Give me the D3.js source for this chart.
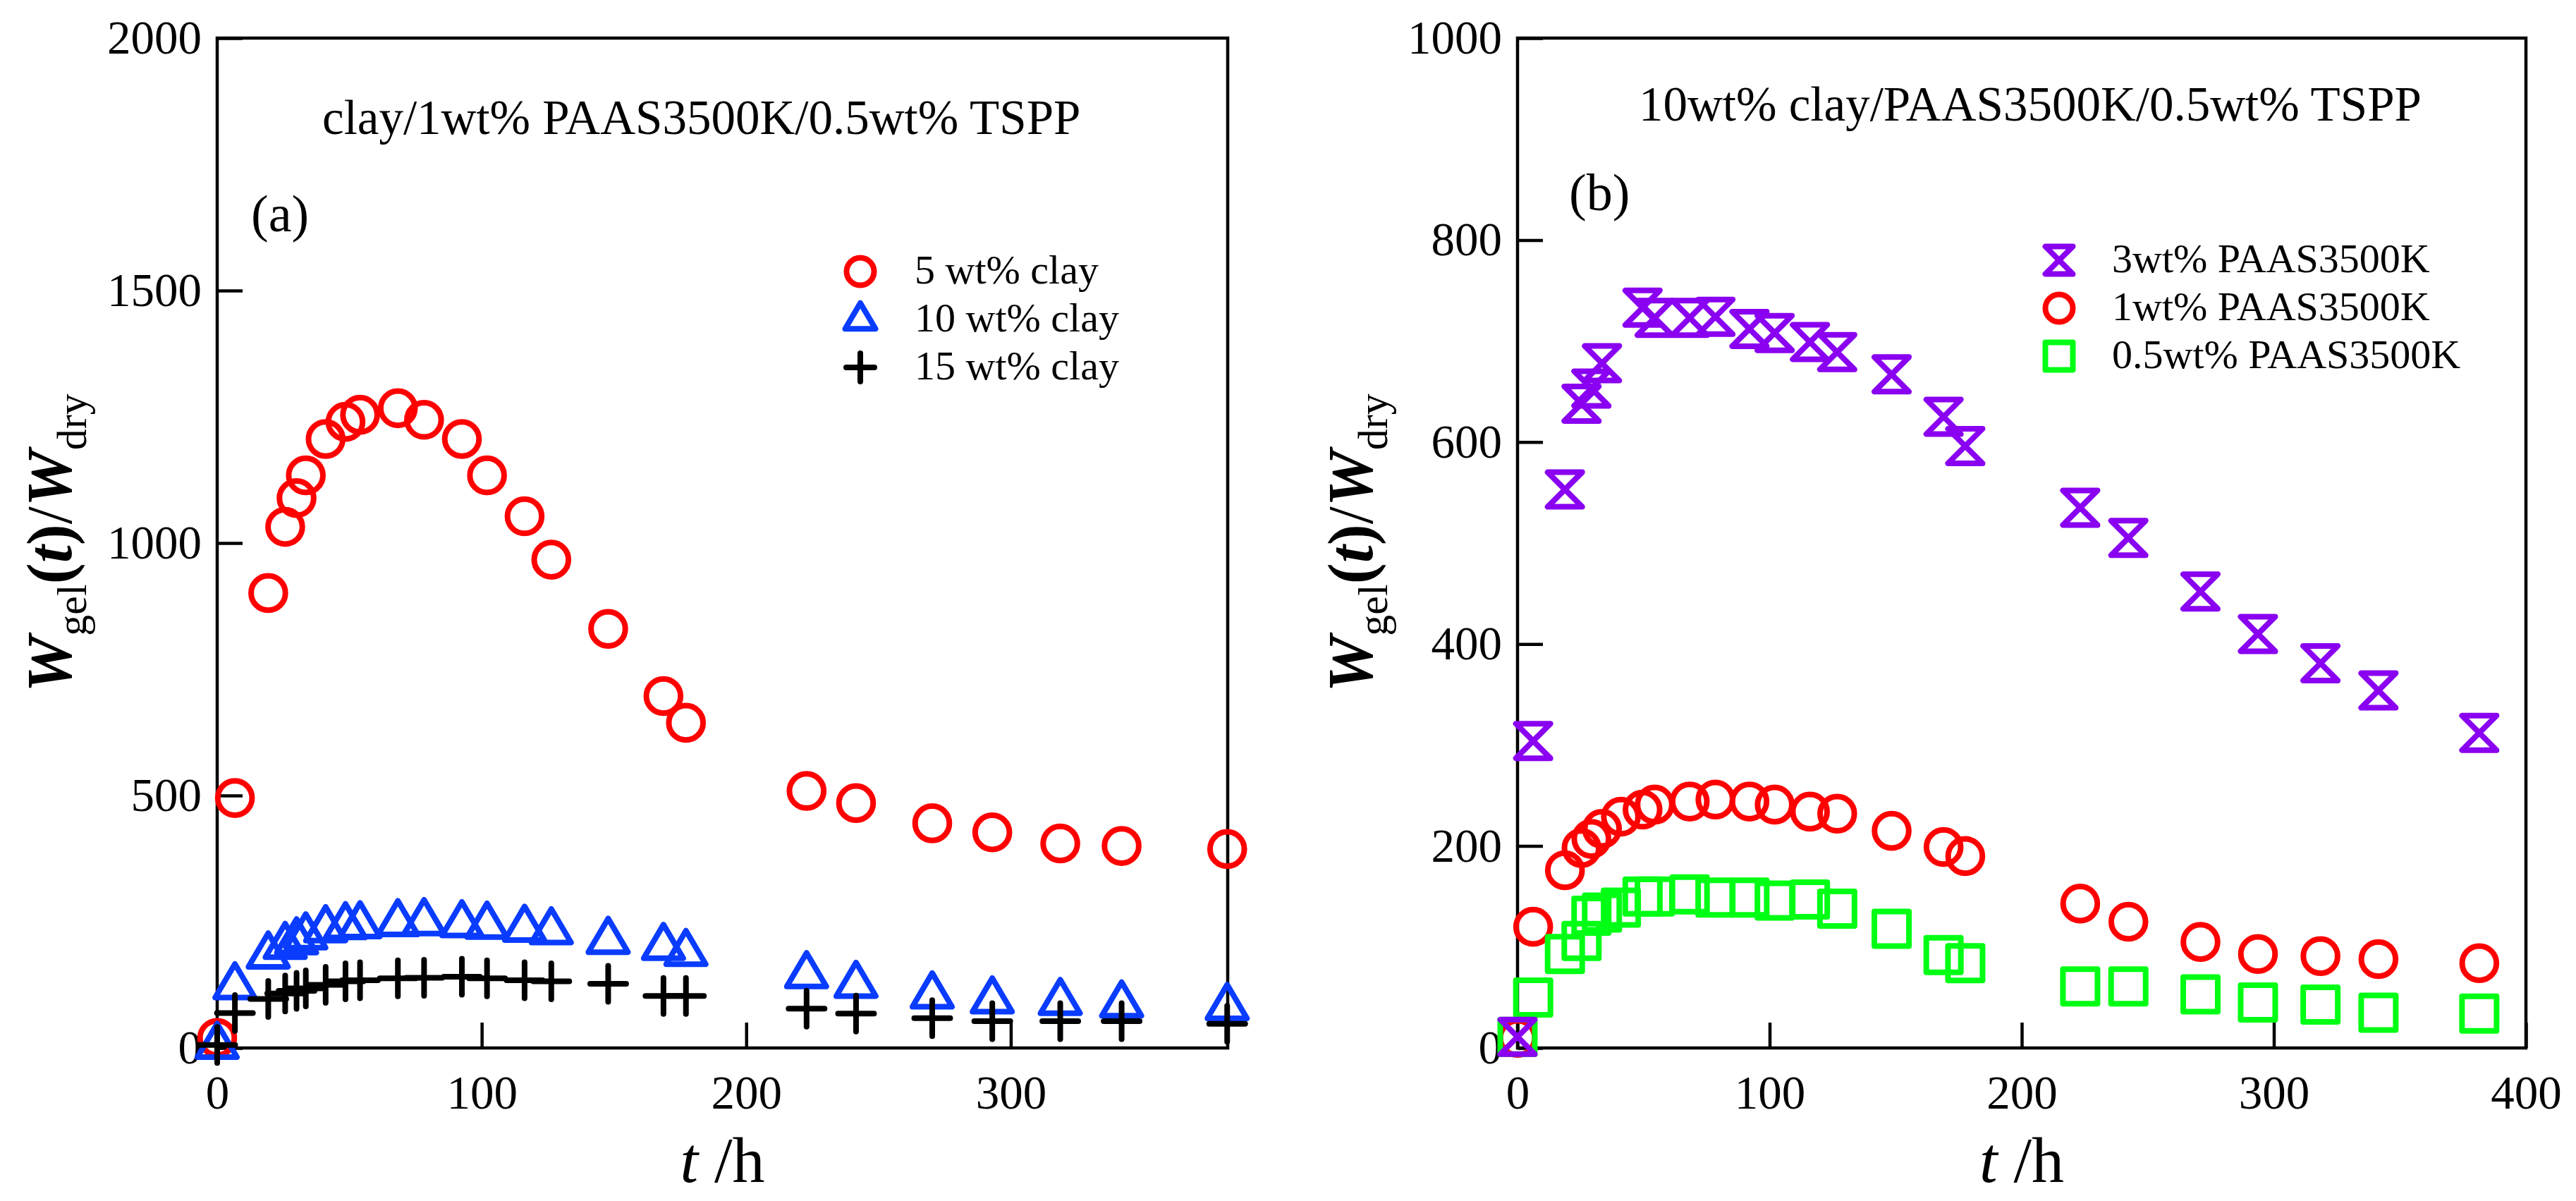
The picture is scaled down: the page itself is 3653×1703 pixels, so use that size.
<!DOCTYPE html>
<html>
<head>
<meta charset="utf-8">
<script src="https://cdn.jsdelivr.net/npm/d3@7"></script>
<style>
  html, body { margin: 0; padding: 0; background: #fff; }
  svg text { font-family: "Liberation Serif", "Times New Roman", Times, serif; }
</style>
</head>
<body>
<div id="chart"></div>
<script>
// panel (a): clay content series
const timeA = [0, 6.7, 19.3, 25.7, 30, 33.5, 41, 48.5, 54, 68.3, 78.2, 92.5, 102, 116.2, 126.3, 147.8, 168.7, 177.2, 222.8, 241.5, 270.3, 293, 318.7, 341.9, 381.8];
const clay5 = [20, 495, 901, 1032, 1089, 1134, 1206, 1240, 1254, 1267, 1244, 1206, 1134, 1053, 967, 830, 697, 644, 509, 485, 445, 427, 405, 400, 394];
const clay10 = [15, 133, 194, 213, 222, 232, 246, 252, 254, 258, 260, 256, 253, 247, 242, 223, 211, 199, 155, 136, 115, 105, 102, 97, 92];
const clay15 = [6, 69, 97, 108, 113, 118, 125, 132, 134, 138, 139, 141, 138, 134, 132, 127, 103, 103, 78, 68, 59, 53, 53, 53, 48];

// panel (b): PAAS content series (null = no point)
const timeB = [0, 6.2, 18.8, 25.4, 29.3, 33.5, 41, 49.6, 54.4, 68.3, 78.5, 92, 102, 116, 126.8, 148.4, 169, 177.6, 223.2, 242.3, 270.9, 293.7, 318.5, 341.5, 381.5];
const paas3 = [11, 304, 553, 638, 653, 678, null, 733, 723, 723, 724, 712, 708, 699, 689, 667, 625, 596, 535, 505, 452, 410, 381, 354, 312];
const paas1 = [10, 120, 176, 198, 207, 217, 229, 236, 241, 244, 246, 244, 241, 234, 232, 215, 199, 190, 143, 125, 105, 93, 91, 88, 84];
const paas05 = [11, 50, 93, 106, 131, 134, 139, 150, 150, 152, 149, 149, 146, 147, 138, 118, 92, 84, 61, 61, 53, 45, 43, 35, 34];

const xTicksA = [0, 100, 200, 300];
const yTicksA = [0, 500, 1000, 1500, 2000];
const xTicksB = [0, 100, 200, 300, 400];
const yTicksB = [0, 200, 400, 600, 800, 1000];

const width = 3653;
const height = 1703;
const font = '"Liberation Serif", "Times New Roman", Times, serif';

// marker shapes as d3 symbol types, r = half size
const half = (size) => Math.sqrt(size) / 2;
const shapes = {
  circle: {
    draw(ctx, size) {
      const r = half(size);
      ctx.moveTo(r, 0);
      ctx.arc(0, 0, r, 0, 2 * Math.PI);
    },
  },
  triangle: {
    draw(ctx, size) {
      const r = half(size);
      ctx.moveTo(0, -0.85 * r);
      ctx.lineTo(r, 0.85 * r);
      ctx.lineTo(-r, 0.85 * r);
      ctx.closePath();
    },
  },
  plus: {
    draw(ctx, size) {
      const r = half(size);
      ctx.moveTo(-r, 0);
      ctx.lineTo(r, 0);
      ctx.moveTo(0, -r);
      ctx.lineTo(0, r);
    },
  },
  square: {
    draw(ctx, size) {
      const r = half(size);
      ctx.moveTo(-r, -r);
      ctx.lineTo(r, -r);
      ctx.lineTo(r, r);
      ctx.lineTo(-r, r);
      ctx.closePath();
    },
  },
  hourglass: {
    draw(ctx, size) {
      const r = half(size);
      ctx.moveTo(-r, -r);
      ctx.lineTo(r, -r);
      ctx.lineTo(-r, r);
      ctx.lineTo(r, r);
      ctx.closePath();
    },
  },
};

// data size / legend size (half widths)
const markerR = { circle: 24.3, triangle: 28, plus: 25.5, square: 24.5, hourglass: 24.5 };
const legendR = { circle: 19.5, triangle: 21.5, plus: 20, square: 19.5, hourglass: 19.5 };

const symbolPath = (shape, r) => d3.symbol().type(shapes[shape]).size((2 * r) * (2 * r))();

const panels = [
  {
    left: 308, right: 1741, top: 54, bottom: 1486,
    xDomain: [0, 382], yDomain: [0, 2000],
    xTicks: xTicksA, yTicks: yTicksA,
    times: timeA,
    title: 'clay/1wt% PAAS3500K/0.5wt% TSPP', titleX: 457, titleY: 190,
    tag: '(a)', tagX: 356, tagY: 328,
    legendX: 1220, legendTextX: 1297, legendY: 402,
    yTitleX: 101,
    series: [
      { name: '5 wt% clay', values: clay5, shape: 'circle', color: '#ff0000' },
      { name: '10 wt% clay', values: clay10, shape: 'triangle', color: '#0a3cff' },
      { name: '15 wt% clay', values: clay15, shape: 'plus', color: '#000000' },
    ],
    order: [0, 1, 2],
  },
  {
    left: 2152, right: 3582, top: 54, bottom: 1486,
    xDomain: [0, 400], yDomain: [0, 1000],
    xTicks: xTicksB, yTicks: yTicksB,
    times: timeB,
    title: '10wt% clay/PAAS3500K/0.5wt% TSPP', titleX: 2324, titleY: 171,
    tag: '(b)', tagX: 2225, tagY: 298,
    legendX: 2920, legendTextX: 2995, legendY: 386,
    yTitleX: 1946,
    series: [
      { name: '3wt% PAAS3500K', values: paas3, shape: 'hourglass', color: '#8a00f0' },
      { name: '1wt% PAAS3500K', values: paas1, shape: 'circle', color: '#ff0000' },
      { name: '0.5wt% PAAS3500K', values: paas05, shape: 'square', color: '#00ff14' },
    ],
    order: [1, 2, 0],
  },
];

const svg = d3
  .select('#chart')
  .append('svg')
  .attr('width', width)
  .attr('height', height)
  .attr('viewBox', `0 0 ${width} ${height}`);

svg.append('rect').attr('width', width).attr('height', height).attr('fill', '#fff');

function drawPanel(p) {
  const g = svg.append('g');
  const x = d3.scaleLinear().domain(p.xDomain).range([p.left, p.right]);
  const y = d3.scaleLinear().domain(p.yDomain).range([p.bottom, p.top]);

  // frame
  g.append('rect')
    .attr('x', p.left)
    .attr('y', p.top)
    .attr('width', p.right - p.left)
    .attr('height', p.bottom - p.top)
    .attr('fill', 'none')
    .attr('stroke', '#000')
    .attr('stroke-width', 4.5);

  const yAxis = g
    .append('g')
    .attr('transform', `translate(${p.left},0)`)
    .call(d3.axisLeft(y).tickValues(p.yTicks).tickFormat(d3.format('d')).tickSize(-36).tickPadding(22));
  const xAxis = g
    .append('g')
    .attr('transform', `translate(0,${p.bottom})`)
    .call(d3.axisBottom(x).tickValues(p.xTicks).tickFormat(d3.format('d')).tickSize(-36).tickPadding(38));

  [xAxis, yAxis].forEach((a) => {
    a.select('.domain').remove();
    a.attr('font-family', null).attr('font-size', 67);
    a.selectAll('.tick line').attr('stroke', '#000').attr('stroke-width', 4.5);
    a.selectAll('.tick text').attr('fill', '#000').style('font-family', font);
  });

  // data markers
  p.order.forEach((si) => {
    const s = p.series[si];
    const pts = p.times.map((t, i) => ({ t, v: s.values[i] })).filter((d) => d.v != null);
    g.append('g')
      .selectAll('path')
      .data(pts)
      .join('path')
      .attr('transform', (d) => `translate(${x(d.t)},${y(d.v)})`)
      .attr('d', symbolPath(s.shape, markerR[s.shape]))
      .attr('fill', 'none')
      .attr('stroke', s.color)
      .attr('stroke-width', 8)
      .attr('stroke-linejoin', 'round')
      .attr('stroke-linecap', 'round');
  });

  // legend
  const rows = g
    .selectAll('.legendRow')
    .data(p.series)
    .join('g')
    .attr('class', 'legendRow')
    .attr('transform', (d, i) => `translate(0,${p.legendY + i * 68})`);
  rows
    .append('path')
    .attr('transform', (d) => `translate(${p.legendX},${d.shape === 'triangle' ? -22 : -17})`)
    .attr('d', (d) => symbolPath(d.shape, legendR[d.shape]))
    .attr('fill', 'none')
    .attr('stroke', (d) => d.color)
    .attr('stroke-width', 8)
    .attr('stroke-linejoin', 'round')
    .attr('stroke-linecap', 'round');
  rows
    .append('text')
    .attr('x', p.legendTextX)
    .attr('font-size', 58)
    .text((d) => d.name);

  // panel title and tag
  g.append('text').attr('x', p.titleX).attr('y', p.titleY).attr('font-size', 69).text(p.title);
  g.append('text').attr('x', p.tagX).attr('y', p.tagY).attr('font-size', 74).text(p.tag);

  // x title
  const xt = g
    .append('text')
    .attr('x', (p.left + p.right) / 2)
    .attr('y', 1676)
    .attr('text-anchor', 'middle')
    .attr('font-size', 92);
  xt.append('tspan').attr('font-style', 'italic').text('t');
  xt.append('tspan').text(' /h');

  // y title
  const yt = g
    .append('text')
    .attr('transform', `translate(${p.yTitleX},${(p.top + p.bottom) / 2}) rotate(-90)`)
    .attr('text-anchor', 'middle')
    .attr('font-size', 90);
  yt.append('tspan').attr('font-weight', 'bold').attr('font-style', 'italic').text('W');
  yt.append('tspan').attr('font-size', 60).attr('dy', 21).text('gel');
  yt.append('tspan').attr('font-weight', 'bold').attr('dy', -21).text('(');
  yt.append('tspan').attr('font-weight', 'bold').attr('font-style', 'italic').text('t');
  yt.append('tspan').attr('font-weight', 'bold').text(')');
  yt.append('tspan').text('/');
  yt.append('tspan').attr('font-weight', 'bold').attr('font-style', 'italic').text('W');
  yt.append('tspan').attr('font-size', 60).attr('dy', 21).text('dry');
}

panels.forEach(drawPanel);
</script>
</body>
</html>
